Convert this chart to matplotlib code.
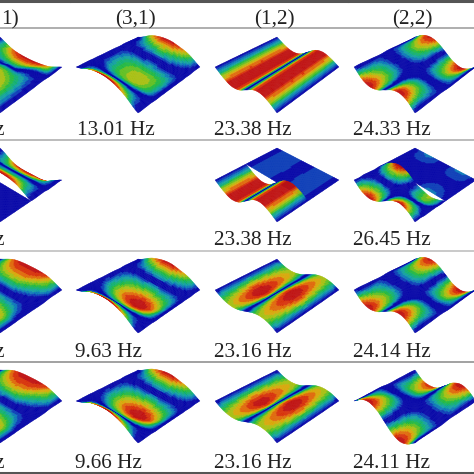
import numpy as np
import matplotlib.pyplot as plt
import matplotlib.tri as mtri
from matplotlib.collections import PolyCollection
from matplotlib.colors import ListedColormap, BoundaryNorm

plt.rcParams['font.family'] = ['Liberation Serif', 'DejaVu Serif']

headers = ['1)', '(3,1)', '(1,2)', '(2,2)']
freqs = [['z', '13.01 Hz', '23.38 Hz', '24.33 Hz'],
         ['z', '', '23.38 Hz', '26.45 Hz'],
         ['z', '9.63 Hz', '23.16 Hz', '24.14 Hz'],
         ['z', '9.66 Hz', '23.16 Hz', '24.11 Hz']]

# signed deflection, rows are v = 0..1, columns u = 0..1
m21_r1 = [[0, .55, .80, .60, 0],
          [0, .60, .80, .60, 0],
          [0, .25, .50, .40, 0],
          [0, -.35, -.45, -.10, 0],
          [0, -.85, -1.0, -.80, 0]]
m21_r2_top = [[0, .85, 1.0, .80, 0],
              [0, .40, .50, .45, 0],
              [0, .05, .05, .05, 0],
              [0, -.45, -.55, -.40, 0],
              [0, -.85, -1.0, -.90, 0]]
m21_r2_low = [[0, .03, .04, .03, 0],
              [0, .04, .05, .04, 0],
              [0, .04, .05, .04, 0]]
m21_r3 = [[0, -.60, -.85, -.60, 0],
          [0, -.65, -.85, -.65, 0],
          [0, -.15, -.25, -.20, 0],
          [0, .50, .60, .35, 0],
          [0, .85, 1.0, .85, 0]]
m21_r4 = [[0, -.60, -.80, -.60, 0],
          [0, -.65, -.85, -.65, 0],
          [0, -.15, -.25, -.20, 0],
          [0, .50, .65, .35, 0],
          [0, .85, 1.0, .85, 0]]

m31_r1 = [[0, .72, 1.0, .72, 0],
          [0, .30, .45, .30, 0],
          [0, -.10, -.12, -.10, 0],
          [0, -.42, -.55, -.42, 0],
          [0, -.48, -.64, -.48, 0],
          [0, -.42, -.52, -.42, 0],
          [0, -.08, -.10, -.08, 0],
          [0, .32, .48, .32, 0],
          [0, .75, 1.0, .75, 0]]
m31_r3 = [[0, .72, 1.0, .72, 0],
          [0, .22, .35, .22, 0],
          [0, -.20, -.28, -.20, 0],
          [0, -.55, -.75, -.55, 0],
          [0, -.72, -1.0, -.72, 0],
          [0, -.55, -.75, -.55, 0],
          [0, -.20, -.25, -.20, 0],
          [0, .28, .45, .28, 0],
          [0, .72, 1.0, .72, 0]]
m31_r4 = [[0, .70, .98, .70, 0],
          [0, .22, .35, .22, 0],
          [0, -.22, -.30, -.22, 0],
          [0, -.55, -.75, -.55, 0],
          [0, -.72, -1.0, -.72, 0],
          [0, -.55, -.75, -.55, 0],
          [0, -.18, -.25, -.18, 0],
          [0, .28, .45, .28, 0],
          [0, .72, 1.0, .72, 0]]

m12_r1 = [[0, -.62, -1.0, -.80, 0, .80, 1.0, .62, 0],
          [0, -.64, -1.0, -.82, 0, .82, 1.0, .64, 0],
          [0, -.65, -1.0, -.82, 0, .82, 1.0, .65, 0],
          [0, -.64, -1.0, -.82, 0, .82, 1.0, .64, 0],
          [0, -.62, -1.0, -.80, 0, .80, 1.0, .62, 0]]
m12_r2_front = [[0, -.62, -1.0, -.80, 0, .80, 1.0, .62, 0],
                [0, -.64, -1.0, -.82, 0, .82, 1.0, .64, 0],
                [0, -.62, -1.0, -.80, 0, .80, 1.0, .62, 0]]
m12_r2_back = [[.02, .15, .16, .15, .03, .15, .16, .15, .02],
               [.02, .16, .17, .16, .03, .16, .17, .16, .02],
               [.02, .15, .16, .15, .03, .15, .16, .15, .02]]
m12_r3 = [[0, -.45, -.62, -.45, 0, .45, .62, .45, 0],
          [0, -.60, -.82, -.62, 0, .62, .82, .60, 0],
          [0, -.74, -1.0, -.74, 0, .74, 1.0, .74, 0],
          [0, -.60, -.82, -.60, 0, .60, .82, .60, 0],
          [0, -.45, -.62, -.45, 0, .45, .62, .45, 0]]
m12_r4 = [[0, -.46, -.62, -.46, 0, .46, .62, .46, 0],
          [0, -.60, -.80, -.62, 0, .62, .82, .60, 0],
          [0, -.72, -.98, -.74, 0, .74, 1.0, .72, 0],
          [0, -.60, -.80, -.60, 0, .60, .82, .60, 0],
          [0, -.46, -.62, -.46, 0, .46, .62, .46, 0]]

m22_r1 = [[0, -.75, -1.0, -.70, 0, .70, 1.0, .72, 0],
          [0, -.40, -.55, -.40, 0, .40, .55, .40, 0],
          [0, 0, 0, 0, 0, 0, 0, 0, 0],
          [0, .40, .55, .40, 0, -.40, -.55, -.40, 0],
          [0, .70, .95, .70, 0, -.70, -1.0, -.70, 0]]
m22_r2_front = [[0, -.75, -1.0, -.70, 0, .70, 1.0, .70, 0],
                [0, -.40, -.55, -.40, 0, .40, .55, .40, 0],
                [0, 0, 0, 0, 0, 0, 0, 0, 0],
                [0, .40, .55, .40, 0, -.35, -.50, -.35, 0],
                [0, .70, 1.0, .70, 0, -.38, -.62, -.42, 0]]
m22_r2_back = [[.02, .10, .05, .10, .02, .18, .22, .18, .02],
               [.02, .04, .03, .04, .02, .12, .16, .12, .02],
               [.02, .02, .03, .02, .02, .03, .04, .03, .02],
               [.02, .14, .16, .12, .02, .14, .16, .14, .02],
               [.02, .18, .22, .16, .02, .18, .22, .18, .02]]
m22_r3 = [[0, -.75, -1.0, -.70, 0, .70, 1.0, .72, 0],
          [0, -.42, -.58, -.42, 0, .42, .58, .42, 0],
          [0, 0, 0, 0, 0, 0, 0, 0, 0],
          [0, .42, .55, .42, 0, -.42, -.58, -.42, 0],
          [0, .70, .95, .70, 0, -.72, -1.0, -.72, 0]]
m22_r4 = [[0, .75, 1.0, .70, 0, -.70, -1.0, -.72, 0],
          [0, .42, .58, .42, 0, -.42, -.58, -.42, 0],
          [0, 0, 0, 0, 0, 0, 0, 0, 0],
          [0, -.42, -.55, -.42, 0, .42, .58, .42, 0],
          [0, -.70, -.90, -.70, 0, .72, 1.0, .72, 0]]

# (grid, v start, v end, lift in px) back to front
panels = [[[(m21_r1, 0, 1, 8)], [(m31_r1, 0, 1, 12)], [(m12_r1, 0, 1, 7)], [(m22_r1, 0, 1, 8)]],
          [[(m21_r2_top, .5, 1, 10), (m21_r2_low, 0, .5, 0)], None,
           [(m12_r2_back, .5, 1, 0), (m12_r2_front, 0, .5, 8)],
           [(m22_r2_back, .5, 1, 0), (m22_r2_front, 0, .5, 8)]],
          [[(m21_r3, 0, 1, 8)], [(m31_r3, 0, 1, 12)], [(m12_r3, 0, 1, 8)], [(m22_r3, 0, 1, 8)]],
          [[(m21_r4, 0, 1, 8)], [(m31_r4, 0, 1, 12)], [(m12_r4, 0, 1, 8)], [(m22_r4, 0, 1, 9)]]]

col_x = [0, 138, 277, 415]
half_w = [62, 62, 62, 61]
row_top = [37, 148, 259, 370]
row_side = [30, 32, 31, 31]
row_depth = [76, 74, 74, 73]

levels = [0, .13, .20, .27, .35, .43, .50, .58, .66, .74, .82, .91, 1.01]
colors = ['#0404a8', '#0a3cb8', '#0a78b8', '#10a0a0', '#10b070', '#20b840',
          '#60c020', '#a8c010', '#d8a808', '#e06808', '#d83008', '#c01010']
cmap = ListedColormap(colors)
norm = BoundaryNorm(levels, cmap.N)


def draw_sheet(ax, grid, corners, v0, v1, lift, z):
    L, T, R, B = corners
    w = np.array(grid, dtype=float)
    nv, nu = w.shape
    uu, vv = np.meshgrid(np.linspace(0, 1, nu), np.linspace(v0, v1, nv))
    tri = mtri.Triangulation(uu.ravel(), vv.ravel())
    interp = mtri.CubicTriInterpolator(tri, w.ravel(), kind='geom')
    n = 56
    m = max(int(n * (v1 - v0)), 8)
    fu, fv = np.meshgrid(np.linspace(.0005, .9995, n + 1),
                         np.linspace(v0 + .0005, v1 - .0005, m + 1))
    fw = np.ma.filled(interp(fu, fv), 0.0)
    px = ((1 - fu) * (1 - fv) * L[0] + fu * (1 - fv) * B[0]
          + (1 - fu) * fv * T[0] + fu * fv * R[0])
    base_y = ((1 - fu) * (1 - fv) * L[1] + fu * (1 - fv) * B[1]
              + (1 - fu) * fv * T[1] + fu * fv * R[1])
    py = base_y - lift * fw
    quads = np.stack([np.stack([px[:-1, :-1], py[:-1, :-1]], -1),
                      np.stack([px[:-1, 1:], py[:-1, 1:]], -1),
                      np.stack([px[1:, 1:], py[1:, 1:]], -1),
                      np.stack([px[1:, :-1], py[1:, :-1]], -1)], axis=2).reshape(-1, 4, 2)
    vals = np.abs((fw[:-1, :-1] + fw[1:, 1:] + fw[:-1, 1:] + fw[1:, :-1]) / 4).ravel()
    order = np.argsort(base_y[:-1, :-1].ravel())
    pc = PolyCollection(quads[order], array=vals[order], cmap=cmap, norm=norm,
                        edgecolors='face', linewidths=.25, zorder=z)
    ax.add_collection(pc)


fig = plt.figure(figsize=(4.74, 4.74), dpi=100)
ax = fig.add_axes([0, 0, 1, 1])
ax.set_xlim(0, 474)
ax.set_ylim(474, 0)
ax.axis('off')

for r, row in enumerate(panels):
    for c, sheets in enumerate(row):
        if sheets is None:
            continue
        x, top = col_x[c], row_top[r]
        corners = [(x - half_w[c], top + row_side[r]), (x, top),
                   (x + half_w[c], top + row_side[r]), (x, top + row_depth[r])]
        for i, (grid, v0, v1, lift) in enumerate(sheets):
            draw_sheet(ax, grid, corners, v0, v1, lift, 2 + i)

# table rules
ax.plot([0, 69], [1, 1], color='#555555', lw=2.2)
ax.plot([71, 347], [1, 1], color='#555555', lw=2.2)
ax.plot([349, 474], [1, 1], color='#555555', lw=2.2)
rule_y = [28, 139.5, 251, 361.5]
rule_c = ['#999999', '#aaaaaa', '#bbbbbb', '#888888']
for y, col in zip(rule_y, rule_c):
    ax.plot([0, 474], [y, y], color=col, lw=1.1)
ax.plot([0, 474], [472.5, 472.5], color='#555555', lw=2.2)

# labels
header_x = [19, 135, 274, 412]
header_ha = ['right', 'center', 'center', 'center']
for t, x, ha in zip(headers, header_x, header_ha):
    ax.text(x, 24, t, ha=ha, va='baseline', fontsize=15.3, color='#222222')
freq_x = [4, 77, 214, 353]
freq_ha = ['right', 'left', 'left', 'left']
freq_y = [135, 245, 357, 468]
for r, row in enumerate(freqs):
    for c, t in enumerate(row):
        ax.text(freq_x[c] if r < 2 or c != 1 else 75, freq_y[r], t, ha=freq_ha[c],
                va='baseline', fontsize=15.3, color='#222222')

fig.savefig('out.png', dpi=100)
